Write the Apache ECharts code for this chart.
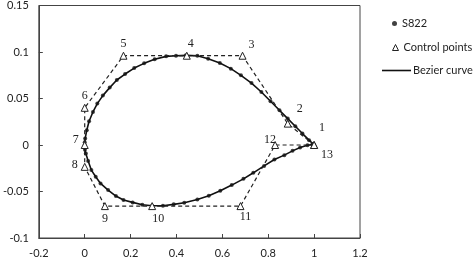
<!DOCTYPE html>
<html>
<head>
<meta charset="utf-8">
<script src="https://cdn.jsdelivr.net/npm/echarts@6/dist/echarts.min.js"></script>
<style>html,body{margin:0;padding:0;background:#fff;}#c{width:474px;height:260px;}</style>
</head>
<body>
<div id="c"></div>
<script>
// S822 airfoil points (upper surface TE -> LE, lower surface LE -> TE)
const s822Upper = [
  [1.000, 0.0000], [0.996, 0.0009], [0.978, 0.0052], [0.949, 0.0123], [0.918, 0.0202],
  [0.885, 0.0284], [0.849, 0.0373], [0.810, 0.0470], [0.770, 0.0570], [0.727, 0.0666],
  [0.681, 0.0749], [0.637, 0.0821], [0.589, 0.0881], [0.538, 0.0928], [0.491, 0.0960],
  [0.441, 0.0964], [0.398, 0.0960], [0.355, 0.0953], [0.305, 0.0921], [0.259, 0.0878],
  [0.216, 0.0827], [0.176, 0.0763], [0.140, 0.0699], [0.109, 0.0617], [0.079, 0.0531],
  [0.055, 0.0445], [0.036, 0.0355], [0.019, 0.0255], [0.009, 0.0159], [0.002, 0.0070],
  [0.000, 0.0030], [0.000, 0.0000]
];
const s822Lower = [
  [0.0005, -0.0020], [0.001, -0.0050], [0.005, -0.0091], [0.015, -0.0171], [0.029, -0.0270],
  [0.048, -0.0342], [0.069, -0.0413], [0.102, -0.0485], [0.136, -0.0549], [0.169, -0.0592],
  [0.209, -0.0617], [0.251, -0.0643], [0.294, -0.0653], [0.341, -0.0653], [0.388, -0.0638],
  [0.434, -0.0621], [0.491, -0.0585], [0.541, -0.0546], [0.591, -0.0492], [0.641, -0.0431],
  [0.692, -0.0364], [0.735, -0.0299], [0.782, -0.0225], [0.827, -0.0156], [0.870, -0.0109],
  [0.906, -0.0063], [0.939, -0.0027], [0.971, -0.0002], [0.992, 0.0005], [1.000, 0.0000]
];
// Bezier control points 1..13
const controlX = [1.000, 0.885, 0.688, 0.445, 0.169, 0.000, 0.000, 0.000, 0.088, 0.294, 0.679, 0.830, 1.000];
const controlY = [0.000, 0.023, 0.096, 0.096, 0.096, 0.040, 0.000, -0.0235, -0.0657, -0.0657, -0.0657, 0.000, 0.000];
const controlLabels = ['1','2','3','4','5','6','7','8','9','10','11','12','13'];
const xTicks = { min: -0.2, max: 1.2, interval: 0.2 };
const yTicks = { min: -0.1, max: 0.15, interval: 0.05 };

// label offsets (style only)
const labelOffsets = [[8,-17],[12,-15],[9,-11],[4,-12],[0,-12],[0,-12],[-9,-5],[-10,-2],[0,13],[6,13],[5,11],[-5,-5],[13,10]];

const s822 = s822Upper.concat(s822Lower);
const controlData = controlX.map((x, i) => ({
  value: [x, controlY[i]],
  label: { offset: labelOffsets[i] }
}));

const chart = echarts.init(document.getElementById('c'), null, { renderer: 'canvas' });
const axisFont = { fontFamily: 'Lato', fontSize: 11, color: '#222' };
const legendText = { fontFamily: 'Lato', fontSize: 11, color: '#222' };
chart.setOption({
  animation: false,
  backgroundColor: '#fff',
  grid: { left: 34, right: 114, top: 5, bottom: 22, show: true, borderColor: '#444', borderWidth: 1, backgroundColor: 'transparent' },
  xAxis: {
    type: 'value', min: xTicks.min, max: xTicks.max, interval: xTicks.interval,
    axisLine: { show: true, onZero: false, lineStyle: { color: '#444', width: 1 } },
    axisTick: { show: true, inside: true, length: 4, lineStyle: { color: '#444' } },
    axisLabel: Object.assign({ margin: 10 }, axisFont),
    splitLine: { show: false }
  },
  yAxis: {
    type: 'value', min: yTicks.min, max: yTicks.max, interval: yTicks.interval,
    axisLine: { show: true, onZero: false, lineStyle: { color: '#444', width: 1 } },
    axisTick: { show: true, inside: true, length: 4, lineStyle: { color: '#444' } },
    axisLabel: Object.assign({ margin: 10 }, axisFont),
    splitLine: { show: false }
  },
  legend: [
    { data: [{ name: 'S822', icon: 'circle' }], left: 387, top: 13, itemWidth: 5, itemHeight: 5, textStyle: legendText, selectedMode: false },
    { data: [{ name: 'Control points', icon: 'triangle', itemStyle: { color: '#fff', borderColor: '#222', borderWidth: 1 } }], left: 387, top: 37, itemWidth: 6, itemHeight: 6, textStyle: legendText, selectedMode: false },
    { data: [{ name: 'Bezier curve', icon: 'rect', itemStyle: { color: '#111' } }], left: 377, top: 60, itemWidth: 29, itemHeight: 1.6, itemGap: 0, textStyle: Object.assign({ padding: [0, 0, 0, -3] }, legendText), selectedMode: false }
  ],
  series: [
    {
      name: 'Bezier curve', type: 'line', data: s822, symbol: 'none', smooth: false,
      lineStyle: { color: '#111', width: 1.6 }, itemStyle: { color: '#111' }, z: 2
    },
    {
      name: 'S822', type: 'scatter', data: s822, symbol: 'circle', symbolSize: 4,
      itemStyle: { color: '#111' }, z: 3
    },
    {
      name: 'Control points', type: 'line', data: controlData,
      symbol: 'triangle', symbolSize: 7, showAllSymbol: true,
      lineStyle: { color: '#222', width: 1.2, type: [4, 3] },
      itemStyle: { color: '#fff', borderColor: '#222', borderWidth: 1 },
      label: {
        show: true, position: 'inside',
        formatter: p => controlLabels[p.dataIndex],
        fontFamily: 'Liberation Serif', fontSize: 12, color: '#222'
      },
      z: 4
    }
  ]
});
</script>
</body>
</html>
